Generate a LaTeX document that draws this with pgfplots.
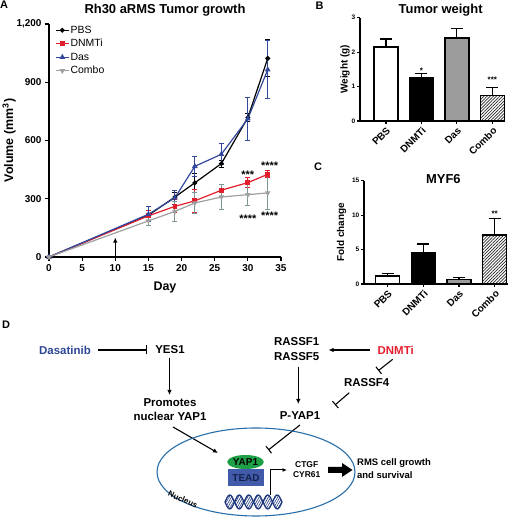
\documentclass[border=0pt]{standalone}
\usepackage{fontspec}
\setmainfont{Liberation Sans}
\usepackage{pgfplots}
\pgfplotsset{compat=1.18}
\usetikzlibrary{arrows.meta,patterns.meta}
\newcommand\fs[1]{\fontsize{#1}{#1}\selectfont}
\definecolor{cred}{RGB}{226,30,45}
\definecolor{cblue}{RGB}{50,72,155}
\definecolor{cgray}{RGB}{160,160,160}
\definecolor{cgrayerr}{RGB}{125,150,150}
\definecolor{dasblue}{RGB}{45,70,150}
\definecolor{nucblue}{RGB}{40,110,170}
\definecolor{teadblue}{RGB}{65,90,170}
\definecolor{yapgreen}{RGB}{30,160,70}
\definecolor{dnablue}{RGB}{30,55,125}
\definecolor{barGray}{RGB}{155,155,155}
\pgfplotsset{
  every axis title shift=0pt,
  gp/.style={
    scale only axis, anchor=south west,
    axis x line*=bottom, axis y line*=left,
    axis line style={line width=1.3bp,-},
    tick align=outside,
    every tick/.style={black, line width=1.2bp},
    /pgf/number format/assume math mode=true,
    clip=false,
  },
  barax/.style={
    gp, width=144bp, height=103.3bp,
    ybar, bar width=24bp, bar shift=0pt,
    major tick length=3bp,
    xtick={0,1,2,3}, xticklabels={PBS,DNMTi,Das,Combo},
    x tick label style={rotate=45, anchor=north east, font=\bfseries\fs{10}, inner sep=1.5bp},
    y tick label style={font=\bfseries\fs{6.5}, inner sep=1.5bp},
  },
  errb/.style={error bars/.cd, y dir=plus, y explicit,
    error bar style={line width=1.2bp, black},
    error mark options={rotate=90, mark size=6bp, line width=1.2bp, black}},
  lerr/.style={error bars/.cd, y dir=both, y explicit,
    error bar style={line width=1bp, #1},
    error mark options={rotate=90, mark size=2.5bp, line width=1bp, #1}},
}
\begin{document}
\begin{tikzpicture}
\useasboundingbox (0,0) rectangle (520bp,518bp);

% ---------------- Panel A ----------------
\begin{axis}[gp,
  at={(49bp,261bp)}, width=232bp, height=233bp,
  xmin=0, xmax=35, ymin=0, ymax=1200,
  major tick length=4bp,
  xtick={0,5,10,15,20,25,30,35}, xticklabels={0,5,10,15,20,25,30,35},
  ytick={0,300,600,900,1200}, yticklabels={0,300,600,900,{1,200}},
  tick label style={font=\bfseries\fs{10}},
  title={Rh30 aRMS Tumor growth},
  title style={font=\bfseries\fs{13}, at={(axis description cs:0.5,1.0575)}, anchor=center},
  xlabel={Day}, ylabel={Volume (mm\textsuperscript{3})},
  xlabel style={font=\bfseries\fs{12.5}, at={(axis description cs:0.5,-0.132)}, anchor=center},
  ylabel style={font=\bfseries\fs{12.5}, at={(axis description cs:-0.172,0.5)}, anchor=center},
  legend style={at={(axis description cs:0.026,0.998)}, anchor=north west, draw=none, fill=none,
    font=\fs{10.5}, row sep=2.2bp, inner sep=0pt, nodes={inner sep=1.2bp}},
  legend cell align=left,
  legend image code/.code={\draw[mark repeat=2,mark phase=2,#1] plot coordinates {(0bp,0bp) (6.5bp,0bp) (13bp,0bp)};},
]
\addplot[black, line width=1.2bp, mark=*, mark size=1.8bp, lerr=black]
  coordinates {(0,0) +- (0,0) (15,215) +- (0,25) (19,309) +- (0,22) (22,382) +- (0,50)
               (26,481) +- (0,18) (30,718) +- (0,22) (33,1023) +- (0,95)};
\addlegendentry{PBS}
\addplot[cred, line width=1.2bp, mark=square*, mark size=1.8bp, lerr=cred]
  coordinates {(0,0) +- (0,0) (15,212) +- (0,25) (19,261) +- (0,33) (22,289) +- (0,60)
               (26,344) +- (0,30) (30,383) +- (0,25) (33,426) +- (0,17)};
\addlegendentry{DNMTi}
\addplot[cblue, line width=1.2bp, mark=triangle*, mark size=2.2bp, lerr=cblue]
  coordinates {(0,0) +- (0,0) (15,220) +- (0,38) (19,305) +- (0,35) (22,467) +- (0,52)
               (26,529) +- (0,55) (30,712) +- (0,110) (33,965) +- (0,150)};
\addlegendentry{Das}
\addplot[cgray, line width=1.2bp, mark=triangle*, mark size=2bp, mark options={rotate=180}, lerr=cgrayerr]
  coordinates {(0,0) +- (0,0) (15,186) +- (0,25) (19,235) +- (0,50) (22,278) +- (0,55)
               (26,309) +- (0,66) (30,321) +- (0,58) (33,330) +- (0,83)};
\addlegendentry{Combo}
\draw[line width=1bp, -{Latex[length=5bp,width=4.5bp]}] (axis cs:10,0) -- (axis cs:10,100);
\node[font=\bfseries\fs{11}] at (axis cs:30,426) {***};
\node[font=\bfseries\fs{11}] at (axis cs:33.3,469) {****};
\node[font=\bfseries\fs{11}] at (axis cs:30,199) {****};
\node[font=\bfseries\fs{11}] at (axis cs:33.3,215) {****};
\end{axis}

% ---------------- Panel B ----------------
\begin{axis}[barax,
  at={(360bp,397bp)}, xmin=-0.734, xmax=3.33, ymin=0, ymax=3,
  ytick={0,1,2,3}, yticklabels={0,1,2,3},
  title={Tumor weight},
  title style={font=\bfseries\fs{13}, at={(axis description cs:0.56,1.0755)}, anchor=center},
  ylabel={Weight (g)},
  ylabel style={font=\bfseries\fs{10}, at={(axis description cs:-0.104,0.5)}, anchor=center},
]
\addplot[fill=white, draw=black, line width=1.3bp, errb] coordinates {(0,2.15) +- (0,0.23)};
\addplot[fill=black, draw=black, line width=1.3bp, errb] coordinates {(1,1.27) +- (0,0.12)};
\addplot[fill=barGray, draw=black, line width=1.3bp, errb] coordinates {(2,2.41) +- (0,0.27)};
\addplot[pattern={Lines[angle=45,distance=2.2bp,line width=0.7bp]}, pattern color=black!85, draw=black, line width=1.3bp, errb] coordinates {(3,0.75) +- (0,0.23)};
\node[font=\bfseries\fs{8}] at (axis cs:1,1.45) {*};
\node[font=\bfseries\fs{8}] at (axis cs:3,1.19) {***};
\end{axis}

% ---------------- Panel C ----------------
\begin{axis}[barax,
  at={(364bp,234bp)}, width=144.3bp, xmin=-0.664, xmax=3.38, ymin=0, ymax=15,
  ytick={0,5,10,15}, yticklabels={0,5,10,15},
  title={MYF6},
  title style={font=\bfseries\fs{13}, at={(axis description cs:0.55,1.0136)}, anchor=center},
  ylabel={Fold change},
  ylabel style={font=\bfseries\fs{10}, at={(axis description cs:-0.155,0.5)}, anchor=center},
]
\addplot[fill=white, draw=black, line width=1.3bp, errb] coordinates {(0,1.16) +- (0,0.39)};
\addplot[fill=black, draw=black, line width=1.3bp, errb] coordinates {(1,4.55) +- (0,1.25)};
\addplot[fill=barGray, draw=black, line width=1.3bp, errb] coordinates {(2,0.68) +- (0,0.29)};
\addplot[pattern={Lines[angle=45,distance=2.2bp,line width=0.7bp]}, pattern color=black!85, draw=black, line width=1.3bp, errb] coordinates {(3,7.12) +- (0,2.43)};
\node[font=\bfseries\fs{8}] at (axis cs:3,10.25) {**};
\end{axis}

\begin{scope}[x=1bp, y=-1bp, yshift=518bp]
% ---------------- Panel letters ----------------
\node[font=\bfseries\fs{11}] at (4,5) {A};
\node[font=\bfseries\fs{11}] at (319.5,6) {B};
\node[font=\bfseries\fs{11}] at (318,167) {C};
\node[font=\bfseries\fs{11}] at (6,325) {D};

% ---------------- Panel D diagram ----------------
\tikzset{arr/.style={line width=1.1bp, -{Latex[length=5bp,width=4.5bp]}},
         inh/.style={line width=1.1bp, -{Bar[width=9bp,line width=1.1bp]}},
         lab/.style={font=\bfseries\fs{11.5}, inner sep=0pt}}
\node[lab, text=dasblue] at (65,350) {Dasatinib};
\draw[inh] (98,350) -- (146.7,350);
\node[lab] at (170,350) {YES1};
\draw[arr] (169.5,358) -- (169.5,395);
\node[lab] at (170,403) {Promotes};
\node[lab] at (170,416) {nuclear YAP1};
\draw[arr] (173,427) -- (218,453);

\node[lab] at (296.7,341.7) {RASSF1};
\node[lab] at (296.7,356.7) {RASSF5};
\node[lab, text=cred] at (395.7,350) {DNMTi};
\draw[arr] (370,350) -- (328.5,350);
\draw[inh] (392.7,359.3) -- (378.3,370.7);
\node[lab] at (366.7,382.7) {RASSF4};
\draw[inh] (349.3,392.7) -- (335,405);
\draw[arr] (298.3,366.7) -- (298.3,404);
\node[lab] at (300,415.5) {P-YAP1};
\draw[inh] (300,425) -- (268.3,450);

% nucleus
\draw[nucblue, line width=1.1bp] (256,472) ellipse [x radius=99, y radius=44];
\node[font=\bfseries\fs{8}, rotate=-24] at (183,499.5) {Nucleus};
% YAP1 / TEAD
\fill[yapgreen] (245.5,462) ellipse [x radius=18.3, y radius=7];
\node[font=\bfseries\fs{10}, inner sep=0pt] at (245.5,462.5) {YAP1};
\fill[teadblue] (227.7,469.5) rectangle (264.3,486);
\node[font=\bfseries\fs{10}, text=dnablue!60!black, inner sep=0pt] at (246,478) {TEAD};
% DNA helix
\fill[pattern={Lines[angle=60,distance=2bp,line width=0.6bp]}, pattern color=dnablue]
  (225,502) sin (229.75,495) cos (234.5,502) sin (239.25,509) cos (244,502) sin (248.75,495) cos (253.5,502)
  sin (258.25,509) cos (263,502) sin (267.75,495) cos (272.5,502) sin (277.25,509) cos (282,502)
  sin (277.25,495) cos (272.5,502) sin (267.75,509) cos (263,502) sin (258.25,495) cos (253.5,502)
  sin (248.75,509) cos (244,502) sin (239.25,495) cos (234.5,502) sin (229.75,509) cos (225,502) -- cycle;
\draw[dnablue, line width=1.3bp]
  (225,502) sin (229.75,495) cos (234.5,502) sin (239.25,509) cos (244,502) sin (248.75,495) cos (253.5,502)
  sin (258.25,509) cos (263,502) sin (267.75,495) cos (272.5,502) sin (277.25,509) cos (282,502);
\draw[dnablue, line width=1.3bp]
  (225,502) sin (229.75,509) cos (234.5,502) sin (239.25,495) cos (244,502) sin (248.75,509) cos (253.5,502)
  sin (258.25,495) cos (263,502) sin (267.75,509) cos (272.5,502) sin (277.25,495) cos (282,502);
% transcription arrow
\draw[line width=1bp, -{Latex[length=4.5bp,width=4bp]}] (270.5,495) -- (270.5,470) -- (287,470);
\node[font=\bfseries\fs{8.5}, inner sep=0pt] at (306.7,465) {CTGF};
\node[font=\bfseries\fs{8.5}, inner sep=0pt] at (306.7,474.5) {CYR61};
\fill (328,467) -- (342,467) -- (342,463) -- (352.5,470) -- (342,477) -- (342,473) -- (328,473) -- cycle;
\node[font=\bfseries\fs{9.5}, anchor=west, inner sep=0pt] at (357,463.5) {RMS cell growth};
\node[font=\bfseries\fs{9.5}, anchor=west, inner sep=0pt] at (357,475.5) {and survival};
\end{scope}
\end{tikzpicture}
\end{document}
